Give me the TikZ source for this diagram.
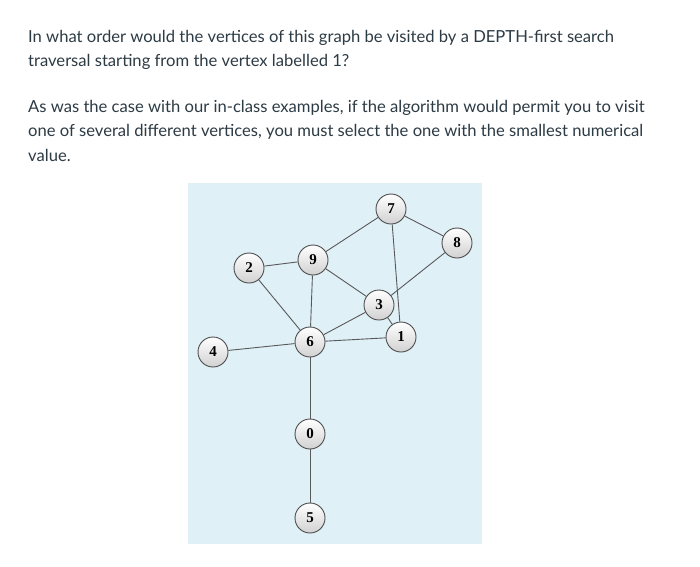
\documentclass[tikz,border=0pt]{standalone}
\usepackage{fontspec}
\setmainfont{Lato}
\newfontfamily\numfont{Liberation Serif}
\definecolor{panel}{HTML}{DFF0F7}
\definecolor{txt}{HTML}{2D3B45}
\begin{document}
\begin{tikzpicture}[x=1pt,y=-1pt,
  vert/.style={circle,draw=black!70,line width=0.9pt,inner sep=0pt,minimum size=30pt,
    top color=white,bottom color=black!18,font=\numfont\bfseries\fontsize{15}{15}\selectfont},
  edge/.style={draw=black!65,line width=0.9pt},
  line/.style={anchor=base west,inner sep=0pt,text=txt,font=\fontsize{16.6}{18}\selectfont}]
\useasboundingbox (0,0) rectangle (700,566);
\fill[white] (0,0) rectangle (700,566);
\node[line] (l1) at (28,42) {In what order would the vertices of this graph be visited by a DEPTH-first search};
\node[line] (l2) at (28,66) {traversal starting from the vertex labelled 1?};
\node[line] (l3) at (28,112) {As was the case with our in-class examples, if the algorithm would permit you to visit};
\node[line] (l4) at (28,136) {one of several different vertices, you must select the one with the smallest numerical};
\node[line] (l5) at (28,161) {value.};
\fill[panel] (188,183) rectangle (482,544);
\node[vert] (n7) at (391,209) {7};
\node[vert] (n8) at (457,243) {8};
\node[vert] (n2) at (249,268) {2};
\node[vert] (n9) at (313,260) {9};
\node[vert] (n3) at (379,305) {3};
\node[vert] (n1) at (401,337) {1};
\node[vert] (n4) at (213,352) {4};
\node[vert] (n6) at (310,342) {6};
\node[vert] (n0) at (310,434) {0};
\node[vert] (n5) at (310,518) {5};
\foreach \a/\b in {n7/n9,n7/n8,n7/n1,n2/n9,n2/n6,n9/n6,n9/n3,n8/n3,n3/n6,n3/n1,n6/n1,n4/n6,n6/n0,n0/n5}
  \draw[edge] (\a) -- (\b);
\end{tikzpicture}
\end{document}
